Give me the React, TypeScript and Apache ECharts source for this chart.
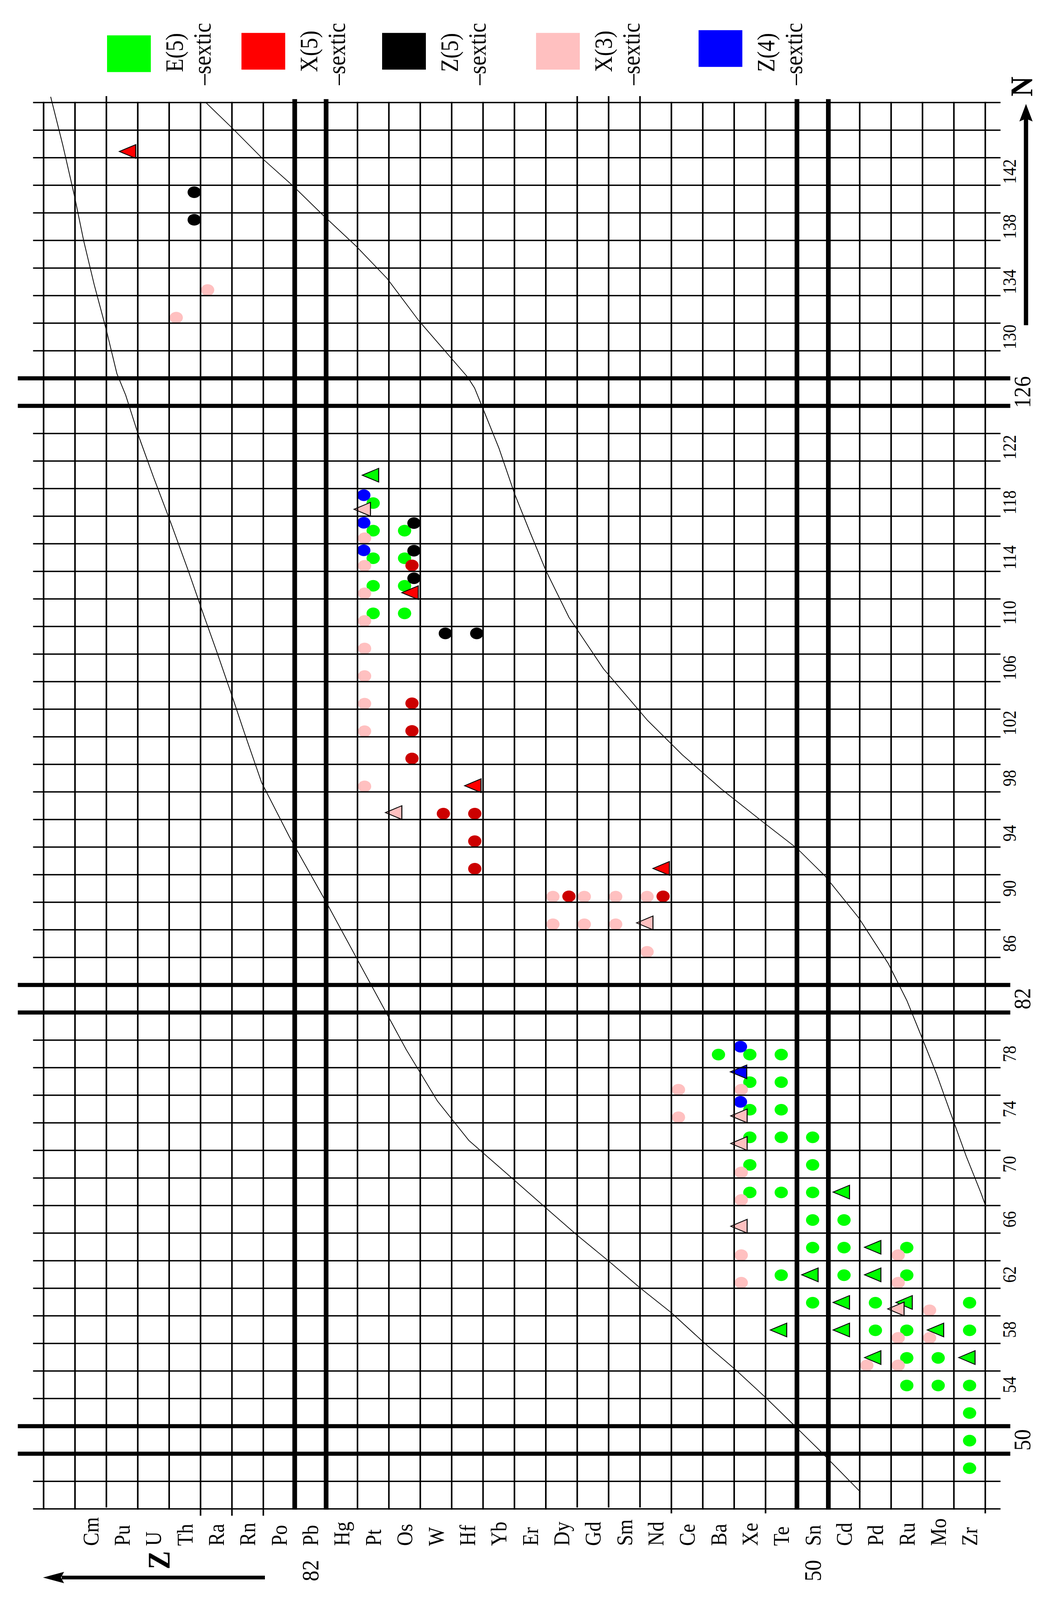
import React, { useEffect, useRef } from "react";
import * as echarts from "echarts";

// ---------- data (Z = proton number, N = neutron number) ----------
const ELEMENT_SYMBOLS = ["Zr", "Mo", "Ru", "Pd", "Cd", "Sn", "Te", "Xe", "Ba", "Ce", "Nd", "Sm", "Gd", "Dy", "Er", "Yb", "Hf", "W", "Os", "Pt", "Hg", "Pb", "Po", "Rn", "Ra", "Th", "U", "Pu", "Cm"];
const ELEMENT_Z = [40, 42, 44, 46, 48, 50, 52, 54, 56, 58, 60, 62, 64, 66, 68, 70, 72, 74, 76, 78, 80, 82, 84, 86, 88, 90, 92, 94, 96];
const N_TICK_LABELS = [50, 54, 58, 62, 66, 70, 74, 78, 82, 86, 90, 94, 98, 102, 106, 110, 114, 118, 122, 126, 130, 134, 138, 142];
const MAGIC_Z = [50, 82];
const MAGIC_N = [50, 82, 126];

// E(5)-sextic
const E5_CIRCLE: number[][] = [
  [78, 118], [78, 116], [78, 114], [78, 112], [78, 110],
  [76, 116], [76, 114], [76, 112], [76, 110],
  [56, 78],
  [54, 78], [54, 76], [54, 74], [54, 72], [54, 70], [54, 68],
  [52, 78], [52, 76], [52, 74], [52, 72], [52, 68], [52, 62],
  [50, 72], [50, 70], [50, 68], [50, 66], [50, 64], [50, 60],
  [48, 66], [48, 64], [48, 62],
  [46, 60], [46, 58],
  [44, 64], [44, 62], [44, 58], [44, 56], [44, 54],
  [42, 56], [42, 54],
  [40, 60], [40, 58], [40, 54], [40, 52], [40, 50], [40, 48],
];
const E5_TRIANGLE: number[][] = [
  [78, 120], [52, 58], [50, 62], [48, 68], [48, 60], [48, 58],
  [46, 64], [46, 62], [46, 56], [44, 60], [42, 58], [40, 56],
];
// X(5)-sextic
const X5_CIRCLE: number[][] = [
  [76, 114], [76, 104], [76, 102], [76, 100], [74, 96], [72, 96], [72, 94], [72, 92], [66, 90], [60, 90],
];
const X5_TRIANGLE: number[][] = [[94, 144], [76, 112], [72, 98], [60, 92]];
// Z(5)-sextic
const Z5_CIRCLE: number[][] = [[90, 140], [90, 138], [76, 116], [76, 114], [76, 112], [74, 108], [72, 108]];
// X(3)-sextic
const X3_CIRCLE: number[][] = [
  [88, 134], [90, 132],
  [78, 116], [78, 114], [78, 112], [78, 110], [78, 108], [78, 106], [78, 104], [78, 102], [78, 98],
  [66, 90], [66, 88], [64, 90], [64, 88], [62, 90], [62, 88], [60, 90], [60, 86],
  [58, 76], [58, 74],
  [54, 76], [54, 70], [54, 68], [54, 64], [54, 62],
  [46, 56], [44, 64], [44, 62], [44, 58], [44, 56], [42, 60], [42, 58],
];
const X3_TRIANGLE: number[][] = [[78, 118], [76, 96], [60, 88], [54, 74], [54, 72], [54, 66], [44, 60]];
// Z(4)-sextic
const Z4_CIRCLE: number[][] = [[78, 118], [78, 116], [78, 114], [54, 78], [54, 74]];
const Z4_TRIANGLE: number[][] = [[54, 76]];

// drip lines as [Z, N]
const DRIP_LINE_1: number[][] = [
  [98.55, 147.42], [97.78, 143.93], [97.04, 140.26], [96.44, 136.95], [95.78, 133.81], [95.0, 130.49],
  [94.33, 127.34], [93.77, 125.78], [92.89, 122.64], [92.0, 119.84], [90.93, 116.63], [89.78, 113.04],
  [88.77, 109.73], [88.0, 107.28], [86.99, 103.95], [86.22, 101.34], [85.11, 97.68], [83.33, 93.73],
  [80.87, 88.75], [78.38, 83.53], [75.89, 78.3], [73.9, 74.57], [71.91, 71.73], [69.07, 68.9],
  [67.06, 66.89], [65.05, 64.89], [62.92, 62.9], [61.03, 61.06], [59.01, 59.23], [56.77, 56.9],
  [54.88, 55.06], [52.99, 53.07], [51.33, 51.23], [49.55, 49.24], [46.96, 46.23],
];
const DRIP_LINE_2: number[][] = [
  [88.66, 147.0], [86.99, 145.16], [85.0, 142.88], [83.11, 140.96], [81.22, 138.86], [79.1, 136.6],
  [77.11, 134.24], [75.1, 131.19], [73.1, 128.56], [71.99, 127.1], [71.54, 126.3], [70.98, 124.73],
  [69.99, 121.94], [68.99, 118.62], [68.0, 115.82], [66.99, 113.04], [65.52, 109.65], [63.32, 105.92],
  [60.52, 102.19], [58.31, 99.7], [55.82, 97.21], [53.22, 94.87], [50.97, 92.88], [49.2, 90.89],
  [47.07, 87.88], [45.18, 84.55], [44.0, 81.88], [43.05, 79.22], [42.11, 76.56], [41.16, 73.55],
  [40.21, 70.56], [39.27, 67.9], [38.32, 64.89], [37.14, 61.56],
];

const LEGEND_NAMES = ["E(5)", "X(5)", "Z(5)", "X(3)", "Z(4)"];
const LEGEND_SUFFIX = "\u2013sextic";

// ---------- layout & style ----------
const W = 2690;
const H = 4664;
const FONT = "Liberation Serif";
const GREEN = "#00ff00";
const RED = "#ff0000";
const DARK_RED = "#cc0000";
const BLACK = "#000000";
const PINK = "#ffc0c0";
const BLUE = "#0000ff";
const LEGEND_COLORS = [GREEN, RED, BLACK, PINK, BLUE];
const LEGEND_X = [274, 618, 978, 1372, 1788];
const LEGEND_Y = [103, 96, 96, 96, 88];
// small overhangs of some grid lines in the drawing (pixels)
const TOP_OVERHANG: Record<number, number> = { 95: 17, 65: 17, 63: 17, 61: 17 };
const BOTTOM_OVERHANG: Record<number, number> = { 89: 18, 87: 18, 85: 18, 59: 11, 53: 11, 39: 11, 95: -6, 65: -6, 63: -6, 61: -6 };

const Z_MIN = 39, Z_MAX = 99, N_MIN = 45, N_MAX = 147;
const Z_GRID: number[] = [];
for (let z = Z_MIN; z <= Z_MAX; z += 2) Z_GRID.push(z);
const N_GRID: number[] = [];
for (let n = N_MIN; n <= N_MAX; n += 2) N_GRID.push(n);
const thickZ = (z: number) => MAGIC_Z.some((m) => Math.abs(z - m) === 1);
const thickN = (n: number) => MAGIC_N.some((m) => Math.abs(n - m) === 1);

function txt(text: string, x: number, y: number, size: number, align: string, bold = false) {
  return {
    type: "text",
    x,
    y,
    rotation: Math.PI / 2,
    style: {
      text,
      fontSize: size,
      fontFamily: FONT,
      fontWeight: bold ? "bold" : "normal",
      fill: "#000",
      align,
      textAlign: align,
      verticalAlign: "middle",
      textVerticalAlign: "middle",
    },
  };
}

function circles(name: string, data: number[][], color: string, offset: number[]) {
  return {
    type: "scatter", name, data, symbol: "circle", symbolSize: 34, symbolOffset: offset,
    itemStyle: { color, opacity: 1 }, z: 3, silent: true, emphasis: { disabled: true },
  };
}

function triangles(name: string, data: number[][], color: string, offset: number[]) {
  return {
    type: "scatter", name, data, symbol: "triangle", symbolSize: [40, 42], symbolRotate: 90, symbolOffset: offset,
    itemStyle: { color, opacity: 1, borderColor: "#000", borderWidth: 2.5 }, z: 3, silent: true, emphasis: { disabled: true },
  };
}

function dripLine(name: string, data: number[][]) {
  return {
    type: "line", name, data, symbol: "none", clip: false, smooth: false,
    lineStyle: { color: "#000", width: 2 }, z: 4, silent: true,
  };
}

function buildOption() {
  const legendGraphics: any[] = [];
  LEGEND_NAMES.forEach((name, i) => {
    const lx = LEGEND_X[i];
    legendGraphics.push({ type: "rect", shape: { x: lx, y: LEGEND_Y[i], width: 112, height: 107 }, style: { fill: LEGEND_COLORS[i] } });
    legendGraphics.push(txt(name, lx + 172, 210, 64, "left"));
    legendGraphics.push(txt(LEGEND_SUFFIX, lx + 243, 248, 64, "left"));
  });

  const arrows: any[] = [
    // Z arrow (towards larger Z, to the left)
    { type: "rect", shape: { x: 158, y: 4593, width: 520, height: 11 }, style: { fill: "#000" } },
    { type: "polygon", shape: { points: [[110, 4598.5], [164, 4582], [156, 4598.5], [164, 4615]] }, style: { fill: "#000" } },
    txt("Z", 407, 4548, 80, "center", true),
    // N arrow (upwards)
    { type: "rect", shape: { x: 2620.5, y: 345, width: 11, height: 603 }, style: { fill: "#000" } },
    { type: "polygon", shape: { points: [[2626, 303], [2643, 354], [2626, 346], [2609, 354]] }, style: { fill: "#000" } },
    txt("N", 2615, 252, 80, "center", true),
  ];

  return {
    animation: false,
    backgroundColor: "#ffffff",
    grid: { left: 111.6, top: 299, width: 60 * 40.17, height: 102 * 40.19, containLabel: false },
    xAxis: { type: "value", min: Z_MIN, max: Z_MAX, inverse: true, show: false },
    yAxis: { type: "value", min: N_MIN, max: N_MAX, show: false },
    graphic: [...legendGraphics, ...arrows],
    series: [
      circles("E(5) circle", E5_CIRCLE, GREEN, [0, 2]),
      circles("Z(5) circle", Z5_CIRCLE, BLACK, [24, -20]),
      circles("X(5) circle", X5_CIRCLE, DARK_RED, [19, 23]),
      circles("X(3) circle", X3_CIRCLE, PINK, [-22, 24]),
      circles("Z(4) circle", Z4_CIRCLE, BLUE, [-24, -21]),
      triangles("E(5) triangle", E5_TRIANGLE, GREEN, [-7, 1]),
      triangles("X(5) triangle", X5_TRIANGLE, RED, [14, 22]),
      triangles("X(3) triangle", X3_TRIANGLE, PINK, [-28, 20]),
      triangles("Z(4) triangle", Z4_TRIANGLE, BLUE, [-29, -28]),
      dripLine("drip line 1", DRIP_LINE_1),
      dripLine("drip line 2", DRIP_LINE_2),
      {
        type: "custom", name: "Z grid", silent: true, z: 5,
        data: Z_GRID.map((z) => [z, N_MIN]),
        renderItem: (params: any, api: any) => {
          const z = api.value(0);
          const a = api.coord([z, N_MAX]);
          const b = api.coord([z, N_MIN]);
          const thick = thickZ(z);
          const up = thick ? 10 : 2 + (TOP_OVERHANG[z] || 0);
          const down = 2 + (BOTTOM_OVERHANG[z] || 0);
          return { type: "line", shape: { x1: a[0], y1: a[1] - up, x2: b[0], y2: b[1] + down }, style: { stroke: "#000", lineWidth: thick ? 12 : 4 } };
        },
      },
      {
        type: "custom", name: "N grid", silent: true, z: 5,
        data: N_GRID.map((n) => [Z_MIN, n]),
        renderItem: (params: any, api: any) => {
          const n = api.value(1);
          const a = api.coord([Z_MAX, n]);
          const b = api.coord([Z_MIN, n]);
          const thick = thickN(n);
          return { type: "line", shape: { x1: a[0] - (thick ? 66 : 27), y1: a[1], x2: b[0] + (thick ? 64 : 39), y2: b[1] }, style: { stroke: "#000", lineWidth: thick ? 12 : 4 } };
        },
      },
      {
        type: "custom", name: "element labels", silent: true, z: 6,
        data: ELEMENT_Z.map((z) => [z, N_MIN]),
        renderItem: (params: any, api: any) => {
          const p = api.coord([api.value(0), N_MIN]);
          return txt(ELEMENT_SYMBOLS[params.dataIndex], p[0], p[1] + 108, 58, "left");
        },
      },
      {
        type: "custom", name: "magic Z labels", silent: true, z: 6,
        data: MAGIC_Z.map((z) => [z, N_MIN]),
        renderItem: (params: any, api: any) => {
          const p = api.coord([api.value(0), N_MIN]);
          return txt(String(MAGIC_Z[params.dataIndex]), p[0], p[1] + 180, 62, "center");
        },
      },
      {
        type: "custom", name: "N labels", silent: true, z: 6,
        data: N_TICK_LABELS.map((n) => [Z_MIN, n]),
        renderItem: (params: any, api: any) => {
          const n = N_TICK_LABELS[params.dataIndex];
          const p = api.coord([Z_MIN, n]);
          const magic = MAGIC_N.includes(n);
          return txt(String(n), p[0] + (magic ? 94 : 62), p[1], magic ? 62 : 48, "center");
        },
      },
    ],
  };
}

export default function App() {
  const ref = useRef<HTMLDivElement>(null);
  // the visible page can be shorter than the figure: fit the whole figure into it
  const sx = Math.min(1, (typeof window !== "undefined" ? window.innerWidth : W) / W);
  const sy = Math.min(1, (typeof window !== "undefined" ? window.innerHeight : H) / H);
  useEffect(() => {
    if (!ref.current) return;
    const chart = echarts.init(ref.current, undefined, { renderer: "svg", width: W, height: H });
    chart.setOption(buildOption() as any);
    return () => chart.dispose();
  }, []);
  return (
    <div style={{ position: "fixed", left: 0, top: 0, width: "100vw", height: "100vh", overflow: "hidden", background: "#fff" }}>
      <div
        ref={ref}
        style={{ width: W, height: H, background: "#fff", transform: `scale(${sx}, ${sy})`, transformOrigin: "0 0" }}
      />
    </div>
  );
}
